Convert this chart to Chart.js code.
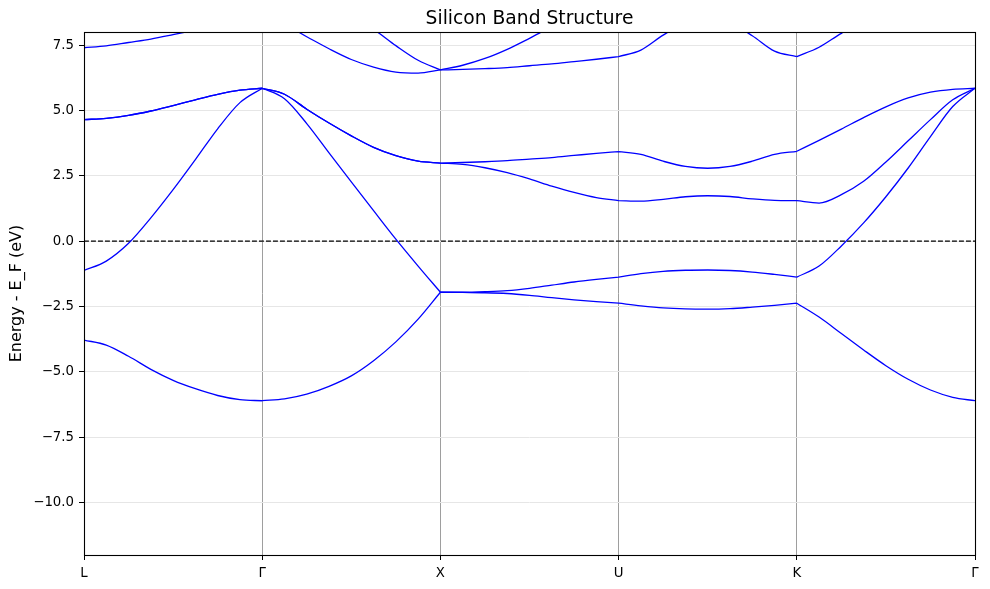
<!DOCTYPE html>
<html>
<head>
<meta charset="utf-8">
<script src="https://cdn.jsdelivr.net/npm/chart.js@4.4.1/dist/chart.umd.min.js"></script>
<style>
  html, body { margin: 0; padding: 0; background: #fff; }
  #wrap { width: 990px; height: 589px; }
</style>
</head>
<body>
<div id="wrap"><canvas id="c" width="990" height="589"></canvas></div>
<script>
// High-symmetry points along the k-path
const kTicks = [0, 1, 2, 3, 4, 5];
const kLabels = ['L', 'Γ', 'X', 'U', 'K', 'Γ'];
// sample fractions inside each path segment
const segFrac = [0, 0.125, 0.25, 0.375, 0.5, 0.625, 0.75, 0.875, 1];
const yTicks = [-10, -7.5, -5, -2.5, 0, 2.5, 5, 7.5];

// Band energies (eV, relative to E_F), 9 samples per segment: L-Γ, Γ-X, X-U, U-K, K-Γ
const band1 = [
  -3.78, -3.97, -4.40, -4.90, -5.32, -5.64, -5.90, -6.06, -6.10,
  -6.10, -6.03, -5.85, -5.55, -5.15, -4.57, -3.85, -2.98, -1.95,
  -1.95, -1.96, -1.97, -2.00, -2.07, -2.16, -2.24, -2.31, -2.37,
  -2.37, -2.47, -2.55, -2.59, -2.60, -2.58, -2.52, -2.45, -2.37,
  -2.37, -2.90, -3.53, -4.16, -4.76, -5.28, -5.69, -5.97, -6.10
];
const band2 = [
  -1.12, -0.76, -0.08, 0.89, 1.97, 3.12, 4.30, 5.30, 5.85,
  5.85, 5.45, 4.50, 3.38, 2.27, 1.17, 0.08, -0.95, -1.95,
  -1.95, -1.95, -1.93, -1.89, -1.80, -1.68, -1.56, -1.46, -1.37,
  -1.37, -1.24, -1.15, -1.11, -1.10, -1.12, -1.18, -1.27, -1.37,
  -1.37, -0.95, -0.18, 0.70, 1.70, 2.80, 4.00, 5.15, 5.85
];
const band3 = [
  4.65, 4.70, 4.81, 4.98, 5.19, 5.41, 5.62, 5.78, 5.85,
  5.85, 5.62, 5.05, 4.52, 4.03, 3.59, 3.27, 3.06, 2.99,
  2.99, 2.94, 2.81, 2.62, 2.38, 2.11, 1.87, 1.67, 1.55,
  1.55, 1.53, 1.60, 1.70, 1.74, 1.71, 1.62, 1.56, 1.55,
  1.55, 1.46, 1.78, 2.29, 3.03, 3.84, 4.65, 5.41, 5.85
];
const band4 = [
  4.65, 4.70, 4.81, 4.98, 5.19, 5.41, 5.62, 5.78, 5.85,
  5.85, 5.62, 5.05, 4.52, 4.03, 3.59, 3.27, 3.06, 2.99,
  2.99, 3.01, 3.04, 3.08, 3.14, 3.20, 3.28, 3.36, 3.43,
  3.43, 3.32, 3.06, 2.86, 2.79, 2.86, 3.06, 3.32, 3.44,
  3.44, 3.86, 4.29, 4.73, 5.14, 5.48, 5.70, 5.81, 5.85
];
const band5 = [
  7.40, 7.47, 7.60, 7.73, 7.90, 8.08, 8.25, 8.40, 8.50,
  8.50, 8.28, 7.82, 7.36, 6.95, 6.66, 6.47, 6.43, 6.55,
  6.55, 6.57, 6.60, 6.64, 6.71, 6.78, 6.87, 6.96, 7.06,
  7.06, 7.31, 7.88, 8.35, 8.50, 8.35, 7.86, 7.27, 7.06,
  7.06, 7.42, 7.95, 8.40, 8.60, 8.70, 8.70, 8.60, 8.50
];
const band6 = [
  9.50, 9.50, 9.40, 9.30, 9.20, 9.10, 9.00, 8.90, 8.85,
  8.85, 8.90, 8.90, 8.80, 8.55, 8.10, 7.48, 6.92, 6.55,
  6.55, 6.73, 6.99, 7.34, 7.76, 8.20, 8.60, 9.00, 9.30,
  9.30, 9.50, 9.60, 9.60, 9.60, 9.60, 9.50, 9.40, 9.30,
  9.30, 9.30, 9.20, 9.10, 9.00, 8.95, 8.90, 8.85, 8.85
];
const bands = [band1, band2, band3, band4, band5, band6];

// Build points segment by segment; a null point separates segments so that
// each segment gets its own spline (kinks allowed at high-symmetry points).
function bandPoints(vals) {
  const pts = [];
  const nSeg = kTicks.length - 1;
  const per = segFrac.length;
  for (let s = 0; s < nSeg; s++) {
    for (let j = 0; j < per; j++) {
      pts.push({ x: kTicks[s] + segFrac[j], y: vals[s * per + j] });
    }
    if (s < nSeg - 1) pts.push({ x: kTicks[s + 1], y: null });
  }
  return pts;
}

const datasets = bands.map(b => ({
  data: bandPoints(b),
  borderColor: '#0000ff',
  borderWidth: 1.3,
  pointRadius: 0,
  cubicInterpolationMode: 'monotone',
  spanGaps: false,
  clip: 0,
  fill: false
}));
datasets.push({
  data: [{ x: kTicks[0], y: 0 }, { x: kTicks[kTicks.length - 1], y: 0 }],
  borderColor: '#000000',
  borderWidth: 1.3,
  borderDash: [4.9, 2.1],
  pointRadius: 0,
  clip: 0,
  fill: false
});

const framePlugin = {
  id: 'frame',
  afterDraw(chart) {
    const { ctx, chartArea: a } = chart;
    ctx.save();
    ctx.strokeStyle = '#000';
    ctx.lineWidth = 1.1;
    ctx.strokeRect(Math.floor(a.left) + 0.5, Math.floor(a.top) + 0.5,
                   Math.round(a.right - a.left), Math.round(a.bottom - a.top));
    ctx.restore();
  }
};

Chart.defaults.font.family = "'DejaVu Sans', sans-serif";
Chart.defaults.color = '#000';

new Chart(document.getElementById('c'), {
  type: 'line',
  data: { datasets },
  plugins: [framePlugin],
  options: {
    responsive: false,
    animation: false,
    devicePixelRatio: 1,
    layout: { padding: { left: 0, right: 15, top: 0, bottom: 0 } },
    plugins: {
      legend: { display: false },
      tooltip: { enabled: false },
      title: {
        display: true,
        text: 'Silicon Band Structure',
        fullSize: false,
        color: '#000',
        font: { size: 18.7, weight: 'normal' },
        padding: { top: 8, bottom: 1.6 }
      }
    },
    scales: {
      x: {
        type: 'linear',
        min: 0,
        max: 5,
        afterBuildTicks: s => { s.ticks = kTicks.map(v => ({ value: v })); },
        afterFit: s => { s.height = 34; },
        ticks: {
          autoSkip: false,
          maxRotation: 0,
          padding: 6,
          font: { size: 13.3 },
          callback: (v, i) => kLabels[i]
        },
        grid: { color: '#9e9e9e', lineWidth: 1, tickLength: 5, tickColor: '#000', drawTicks: true },
        border: { display: false }
      },
      y: {
        type: 'linear',
        min: -12,
        max: 8,
        afterBuildTicks: s => { s.ticks = yTicks.map(v => ({ value: v })); },
        afterFit: s => { s.width = 84; },
        ticks: {
          padding: 5,
          font: { size: 13.3 },
          callback: v => (v < 0 ? '\u2212' : '') + Math.abs(v).toFixed(1)
        },
        grid: { color: '#e6e6e6', lineWidth: 1, tickLength: 5, tickColor: '#000', drawTicks: true },
        border: { display: false },
        title: {
          display: true,
          text: 'Energy - E_F (eV)',
          color: '#000',
          font: { size: 16 },
          padding: { top: 7, bottom: 0 }
        }
      }
    }
  }
});
</script>
</body>
</html>
